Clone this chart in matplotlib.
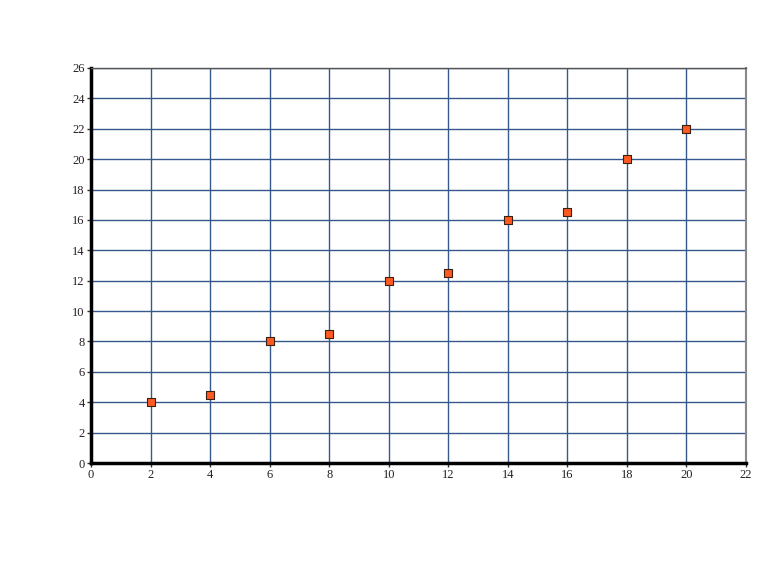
import matplotlib
matplotlib.use("Agg")
import matplotlib.pyplot as plt
import numpy as np

# data
x_vals = [2, 4, 6, 8, 10, 12, 14, 16, 18, 20]
y_vals = [4, 4.5, 8, 8.5, 12, 12.5, 16, 16.5, 20, 22]
x_ticks = list(range(0, 23, 2))
y_ticks = list(range(0, 27, 2))

plt.rcParams['font.family'] = ['Liberation Serif', 'DejaVu Serif']

fig = plt.figure(figsize=(7.68, 5.65), dpi=100)
ax = fig.add_axes([91 / 768, 1 - 463 / 565, (746 - 91) / 768, (463 - 68) / 565])

ax.set_xlim(0, 22)
ax.set_ylim(0, 26)
ax.set_xticks(x_ticks)
ax.set_yticks(y_ticks)
ax.grid(True, color='#34598a', linewidth=1.0)
ax.set_axisbelow(True)

ax.scatter(x_vals, y_vals, marker='s', s=30, color='#ff5a22',
           edgecolors='#3a2010', linewidths=0.8, zorder=3)

for side in ['left', 'bottom']:
    ax.spines[side].set_linewidth(2.5)
    ax.spines[side].set_color('black')
ax.spines['top'].set_color('#555555')
ax.spines['top'].set_linewidth(1.0)
ax.spines['right'].set_color('#888888')
ax.spines['right'].set_linewidth(1.5)

ax.tick_params(axis='both', labelsize=9, length=3, width=1, color='#333333',
               pad=1.5, labelcolor='#222222')

fig.savefig('out.png', dpi=100)
